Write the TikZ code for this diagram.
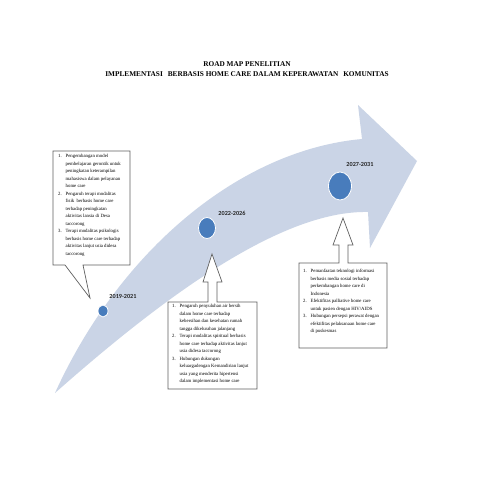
\documentclass[tikz,border=0pt]{standalone}
\usepackage{fontspec}
\setmainfont{Liberation Serif}
\newfontfamily\yearfont{Carlito}
\usetikzlibrary{shapes.geometric}
\definecolor{bandblue}{RGB}{202,212,230}
\definecolor{dotblue}{RGB}{72,124,188}
\definecolor{boxgray}{RGB}{95,95,95}
\newlength{\itmw}
\setlength{\itmw}{7.5pt}
\newcommand{\itm}[1]{\makebox[\itmw][l]{#1}}

\begin{document}
\begin{tikzpicture}[x=1pt,y=-1pt,
  box/.style={draw=boxgray,line width=.7pt,fill=white},
  boxtext/.style={anchor=north west,inner sep=0pt,align=left,font=\fontsize{4.8}{7.5}\selectfont},
  dot/.style={ellipse,draw=white,line width=.8pt,fill=dotblue,inner sep=0pt},
  year/.style={font=\yearfont\bfseries\fontsize{6.2}{7}\selectfont,text=black!85,inner sep=0pt}]
  \fill[white] (0,0) rectangle (495,495);
  \useasboundingbox (0,0) rectangle (495,495);
   \coordinate (TailEnd) at (55,393);
   \coordinate (HeadTip) at (417,161);
   \coordinate (TipA) at (90,298);
   \coordinate (TipB) at (212,254);
   \coordinate (TipC) at (343,218);
  \node[font=\bfseries\fontsize{7.3}{10}\selectfont,align=center] (title) at (247,69)
     {ROAD MAP PENELITIAN\\IMPLEMENTASI\hspace{5pt}BERBASIS HOME CARE DALAM KEPERAWATAN\hspace{5pt}KOMUNITAS};
  % the big curved arrow
  \fill[bandblue] (TailEnd) .. controls (120,250) and (240,150) .. (362,139)
     -- (358,105) -- (HeadTip) -- (370,248) -- (368,212)
     .. controls (280,210) and (160,300) .. (TailEnd) -- cycle;
  \node[dot,minimum width=10pt,minimum height=12pt] (dotA) at (103,311) {};
  \node[dot,minimum width=17pt,minimum height=21pt] (dotB) at (207,228) {};
  \node[dot,minimum width=23pt,minimum height=28pt] (dotC) at (340,186) {};
  \node[year] (yearA) at (123,296) {2019-2021};
  \node[year] (yearB) at (232,213) {2022-2026};
  \node[year] (yearC) at (360,164) {2027-2031};
  % callouts
  \draw[box] (53,151) -- (130,151) -- (130,265) -- (83,265) -- (TipA) -- (65,265) -- (53,265) -- cycle;
  \draw[box] (168,302) -- (208,302) -- (208,282) -- (203,282) -- (TipB) -- (222,282) -- (217,282)
     -- (217,302) -- (257,302) -- (257,389) -- (168,389) -- cycle;
  \draw[box] (299,263) -- (339,263) -- (339,245) -- (333,245) -- (TipC) -- (353,245) -- (348,245)
     -- (348,263) -- (387,263) -- (387,348) -- (299,348) -- cycle;
  \node[boxtext] (textA) at (58,154) {\itm{1.}Pengembangan model\\
     \itm{}pembelajaran gerontik untuk\\
     \itm{}peningkatan keterampilan\\
     \itm{}mahasiswa dalam pelayanan\\
     \itm{}home care\\
     \itm{2.}Pengaruh terapi modalitas\\
     \itm{}fisik\ \ berbasis home care\\
     \itm{}terhadap peningkatan\\
     \itm{}aktivitas lansia di Desa\\
     \itm{}taccorong\\
     \itm{3.}Terapi modalitas psikologis\\
     \itm{}berbasis home care terhadap\\
     \itm{}aktivitas lanjut usia didesa\\
     \itm{}taccorong};
  \node[boxtext] (textB) at (172,304) {\itm{1.}Pengaruh penyuluhan air bersih\\
     \itm{}dalam home care terhadap\\
     \itm{}kebersihan dan kesehatan rumah\\
     \itm{}tangga dikelurahan jalanjang\\
     \itm{2.}Terapi modalitas spiritual berbasis\\
     \itm{}home care terhadap aktivitas lanjut\\
     \itm{}usia didesa taccorong\\
     \itm{3.}Hubungan dukungan\\
     \itm{}keluargadengan Kemandirian lanjut\\
     \itm{}usia yang menderita hipertensi\\
     \itm{}dalam implementasi home care};
  \node[boxtext] (textC) at (303,269) {\itm{1.}Pemanfaatan teknologi informasi\\
     \itm{}berbasis media sosial terhadap\\
     \itm{}perkembangan home care di\\
     \itm{}Indonesia\\
     \itm{2.}Efektifitas palliative home care\\
     \itm{}untuk pasien dengan HIV/AIDS\\
     \itm{3.}Hubungan persepsi perawat dengan\\
     \itm{}efektifitas pelaksanaan home care\\
     \itm{}di puskesmas};
\end{tikzpicture}
\end{document}
